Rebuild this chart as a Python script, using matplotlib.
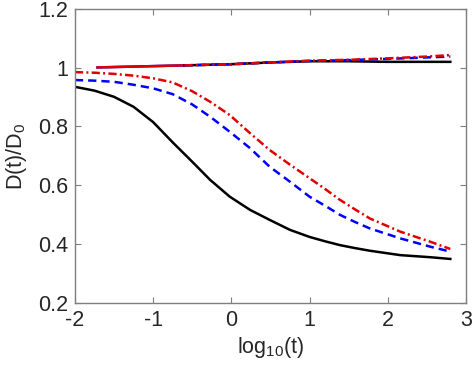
import numpy as np
import matplotlib
matplotlib.use("Agg")
import matplotlib.pyplot as plt

# lower curves, shared log10(t) grid
log_t = [-2.0, -1.75, -1.5, -1.25, -1.0, -0.75, -0.5, -0.27, -0.02, 0.24,
         0.49, 0.75, 1.0, 1.2, 1.39, 1.58, 1.77, 2.16, 2.54, 2.8]
black_low = [0.935, 0.922, 0.901, 0.867, 0.815, 0.746, 0.680, 0.618, 0.561, 0.516,
             0.482, 0.448, 0.424, 0.409, 0.396, 0.386, 0.377, 0.362, 0.355, 0.349]
blue_low = [0.958, 0.956, 0.952, 0.942, 0.930, 0.910, 0.875, 0.833, 0.782, 0.726,
            0.663, 0.612, 0.561, 0.530, 0.499, 0.475, 0.453, 0.419, 0.391, 0.374]
red_low = [0.985, 0.983, 0.979, 0.973, 0.964, 0.950, 0.920, 0.884, 0.839, 0.777,
           0.720, 0.670, 0.624, 0.587, 0.550, 0.518, 0.487, 0.442, 0.408, 0.383]

# upper curves
log_t_start = [-1.71, -0.6]
solid_start = [1.001, 1.008]
log_t_up = [-0.6, 0.0, 0.5, 1.0, 1.5, 2.0, 2.5, 2.8]
black_up = [1.008, 1.012, 1.018, 1.022, 1.022, 1.020, 1.020, 1.020]
blue_up = [1.008, 1.012, 1.018, 1.023, 1.026, 1.030, 1.035, 1.038]
red_up = [1.008, 1.012, 1.018, 1.024, 1.027, 1.032, 1.038, 1.043]

xticks = [-2, -1, 0, 1, 2, 3]
yticks = [0.2, 0.4, 0.6, 0.8, 1.0, 1.2]
ytick_labels = ['0.2', '0.4', '0.6', '0.8', '1', '1.2']

plt.rcParams['font.family'] = ['Liberation Sans', 'DejaVu Sans']
plt.rcParams['axes.unicode_minus'] = False

fig = plt.figure(figsize=(4.74, 3.74), dpi=100)
ax = fig.add_axes([0.158, 0.1906, 0.825, 0.7854])

lw = 1.8
dash = (0, (3.3, 2.0))
dashdot = (0, (3.3, 1.3, 0.8, 1.3))
ax.plot(log_t_start, solid_start, color='#0000ff', lw=lw)
ax.plot(log_t_start, solid_start, color='#e00000', lw=lw)
ax.plot(log_t_up, black_up, color='k', lw=lw)
ax.plot(log_t_up, blue_up, color='#0000ff', lw=lw, ls=dash)
ax.plot(log_t_up, red_up, color='#e00000', lw=lw, ls=dashdot)

ax.plot(log_t, black_low, color='k', lw=lw)
ax.plot(log_t, blue_low, color='#0000ff', lw=lw, ls=dash)
ax.plot(log_t, red_low, color='#e00000', lw=lw, ls=dashdot)

ax.set_xlim(-2, 3)
ax.set_ylim(0.2, 1.2)
ax.set_xticks(xticks)
ax.set_xticklabels([str(v) for v in xticks])
ax.set_yticks(yticks)
ax.set_yticklabels(ytick_labels)
ax.tick_params(direction='in', length=4, width=0.8, top=True, right=True,
               labelsize=15.5, colors='#7f7f7f', labelcolor='#262626', pad=5)
for s in ax.spines.values():
    s.set_color('#7f7f7f')
    s.set_linewidth(1.0)

ax.set_xlabel(r'log$_\mathregular{10}$(t)', fontsize=15.5, color='#262626', labelpad=3)
ax.set_ylabel(r'D(t)/D$_\mathregular{0}$', fontsize=15.5, color='#262626', labelpad=6)

fig.savefig('out.png', dpi=100)
